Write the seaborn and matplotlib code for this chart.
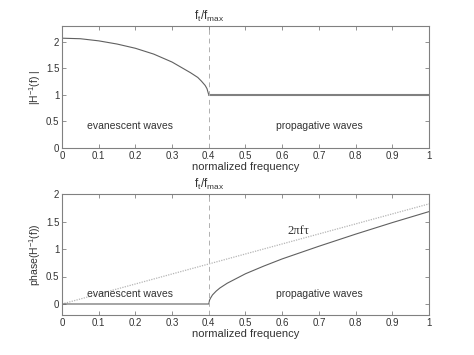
import numpy as np
import pandas as pd
import matplotlib
matplotlib.use("Agg")
import matplotlib.pyplot as plt
import seaborn as sns

# valores
f_evan = [0.0, 0.05, 0.10, 0.15, 0.20, 0.25, 0.30, 0.35, 0.37, 0.38, 0.39, 0.395, 0.40]
mag_evan = [2.07, 2.06, 2.02, 1.96, 1.88, 1.77, 1.62, 1.42, 1.33, 1.26, 1.18, 1.12, 1.00]
f_prop = [0.40, 1.00]
mag_prop = [1.00, 1.00]

f_phase = [0.0, 0.40, 0.402, 0.405, 0.41, 0.42, 0.43, 0.45, 0.50, 0.55, 0.60, 0.70, 0.80, 0.90, 1.00]
phase = [0.0, 0.0, 0.07, 0.11, 0.165, 0.234, 0.29, 0.377, 0.55, 0.69, 0.82, 1.05, 1.27, 1.48, 1.68]
f_delay = [0.0, 1.0]
delay = [0.0, 1.82]

f_t = 0.40
xticks = [0, 0.1, 0.2, 0.3, 0.4, 0.5, 0.6, 0.7, 0.8, 0.9, 1]
xticklabels = ["0", "0.1", "0.2", "0.3", "0.4", "0.5", "0.6", "0.7", "0.8", "0.9", "1"]

sns.set_style("ticks")
plt.rcParams['font.family'] = ['Liberation Sans', 'DejaVu Sans']
plt.rcParams['xtick.direction'] = 'in'
plt.rcParams['ytick.direction'] = 'in'

fig = plt.figure(figsize=(4.74, 3.55), dpi=100)
ax1 = fig.add_axes([62/474, 1 - 148/355, 367/474, 122/355])
ax2 = fig.add_axes([62/474, 1 - 315/355, 367/474, 121/355])

linha = '#606060'
fino = '#b0b0b0'
texto = '#333333'

# painel de cima
sns.lineplot(x=f_evan, y=mag_evan, ax=ax1, color=linha, lw=0.8)
sns.lineplot(x=f_prop, y=mag_prop, ax=ax1, color='#808080', lw=1.5)
ax1.axvline(f_t, color=fino, lw=0.7, ls=(0, (5, 4)))
ax1.set_ylim(0, 2.3)
ax1.set_yticks([0, 0.5, 1, 1.5, 2])
ax1.set_yticklabels(["0", "0.5", "1", "1.5", "2"])
ax1.set_ylabel("|H$^{\\mathregular{-1}}$(f) |", fontsize=7.5, labelpad=2, color=texto)
ax1.text(0.185, 0.42, "evanescent waves", fontsize=7.5, ha='center', va='center', color=texto)
ax1.text(0.70, 0.42, "propagative waves", fontsize=7.5, ha='center', va='center', color=texto)
ax1.text(f_t, 2.33, "f$_\\mathregular{t}$/f$_\\mathregular{max}$", fontsize=8.5, ha='center', va='bottom', color=texto)

# painel de baixo
sns.lineplot(x=f_delay, y=delay, ax=ax2, color='#b5b5b5', lw=0.9, ls=(0, (1, 1)))
sns.lineplot(x=f_phase, y=phase, ax=ax2, color=linha, lw=0.8)
ax2.axvline(f_t, color=fino, lw=0.7, ls=(0, (5, 4)))
ax2.set_ylim(-0.2, 2)
ax2.set_yticks([0, 0.5, 1, 1.5, 2])
ax2.set_yticklabels(["0", "0.5", "1", "1.5", "2"])
ax2.set_ylabel("phase(H$^{\\mathregular{-1}}$(f))", fontsize=7.5, labelpad=2, color=texto)
ax2.text(0.185, 0.19, "evanescent waves", fontsize=7.5, ha='center', va='center', color=texto)
ax2.text(0.70, 0.19, "propagative waves", fontsize=7.5, ha='center', va='center', color=texto)
ax2.text(0.643, 1.32, "2\u03c0f\u03c4", fontsize=9, ha='center', va='center', color=texto,
         family=['Liberation Serif', 'DejaVu Serif'])
ax2.text(f_t, 2.03, "f$_\\mathregular{t}$/f$_\\mathregular{max}$", fontsize=8.5, ha='center', va='bottom', color=texto)

for ax in (ax1, ax2):
    ax.set_xlim(0, 1)
    ax.set_xticks(xticks)
    ax.set_xticklabels(xticklabels)
    ax.set_xlabel("normalized frequency", fontsize=8, labelpad=1, color=texto)
    ax.tick_params(labelsize=7, length=3, width=0.6, color='#808080', labelcolor=texto,
                   top=True, right=True, pad=2)
    for s in ax.spines.values():
        s.set_visible(True)
        s.set_color('#808080')
        s.set_linewidth(0.8)

fig.savefig("out.png", dpi=100)
